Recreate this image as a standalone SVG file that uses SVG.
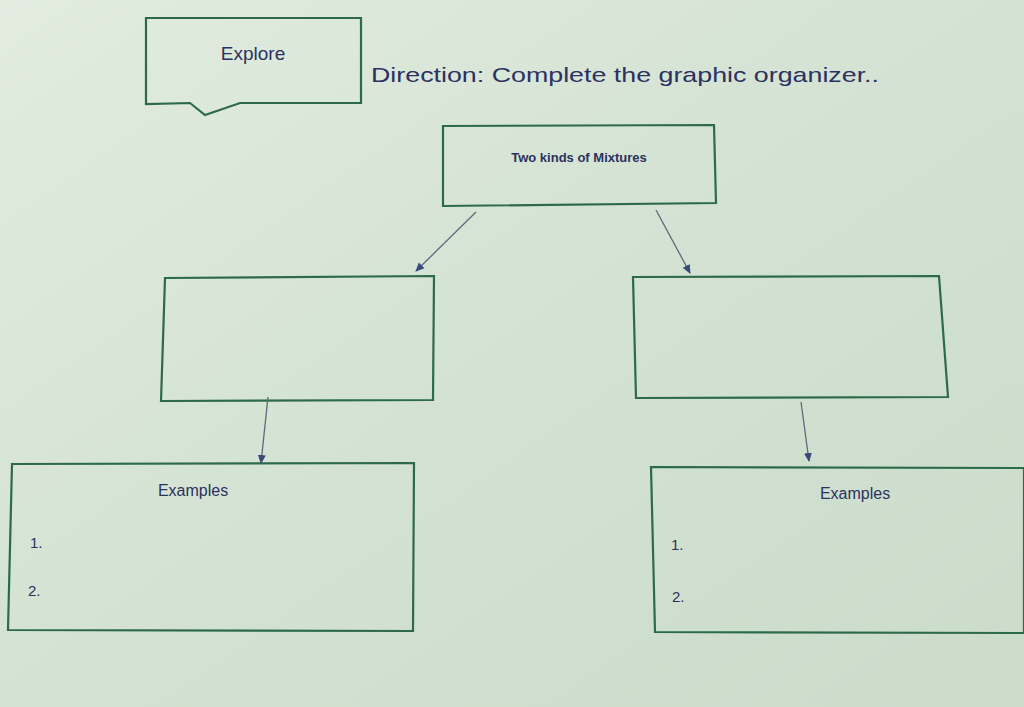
<svg xmlns="http://www.w3.org/2000/svg" width="1024" height="707" viewBox="0 0 1024 707">
<defs>
<linearGradient id="bg" x1="0" y1="0" x2="1" y2="1">
<stop offset="0" stop-color="#e2ece0"/><stop offset="0.5" stop-color="#d3e2d2"/><stop offset="1" stop-color="#cbdccb"/>
</linearGradient>
<marker id="ah" markerWidth="10" markerHeight="10" refX="8" refY="5" orient="auto" markerUnits="userSpaceOnUse">
<path d="M0,1 L9,5 L0,9 Z" fill="#3a4a7a"/>
</marker>
<style>
.box{fill:none;stroke:#2d6a4a;stroke-width:2.2}
.t{font-family:"Liberation Sans",Arial,sans-serif;fill:#2b3160}
.c{stroke:#5a6b7a;stroke-width:1.3;fill:none;marker-end:url(#ah)}
</style>
</defs>
<rect width="1024" height="707" fill="url(#bg)"/>
<g id="explore"><path class="box" d="M146,18 L361,18 L361,103 L240,103 L205,115 L190,103 L146,104 Z"/>
<text class="t" x="253" y="60" font-size="19" text-anchor="middle">Explore</text></g>
<g id="direction"><text class="t" x="371" y="82" font-size="21" textLength="508" lengthAdjust="spacingAndGlyphs">Direction: Complete the graphic organizer..</text></g>
<g id="title"><path class="box" d="M443,126 L714,125 L716,203 L443,206 Z"/>
<text class="t" x="579" y="162" font-size="13" font-weight="bold" text-anchor="middle">Two kinds of Mixtures</text></g>
<g id="left"><path class="box" d="M165,278 L434,276 L433,400 L161,401 Z"/></g>
<g id="right"><path class="box" d="M633,277 L939,276 L948,397 L636,398 Z"/></g>
<g id="exleft"><path class="box" d="M12,464 L414,463 L413,631 L8,630 Z"/>
<text class="t" x="193" y="496" font-size="16" text-anchor="middle">Examples</text>
<text class="t" x="30" y="548" font-size="15">1.</text>
<text class="t" x="28" y="596" font-size="15">2.</text></g>
<g id="exright"><path class="box" d="M651,467 L1024,468 L1024,633 L655,632 Z"/>
<text class="t" x="855" y="499" font-size="16" text-anchor="middle">Examples</text>
<text class="t" x="671" y="550" font-size="15">1.</text>
<text class="t" x="672" y="602" font-size="15">2.</text></g>
<g id="connectors">
<line class="c" x1="476" y1="212" x2="416" y2="271"/>
<line class="c" x1="656" y1="210" x2="690" y2="273"/>
<line class="c" x1="268" y1="397" x2="261" y2="463"/>
<line class="c" x1="801" y1="402" x2="809" y2="461"/>
</g>
</svg>
